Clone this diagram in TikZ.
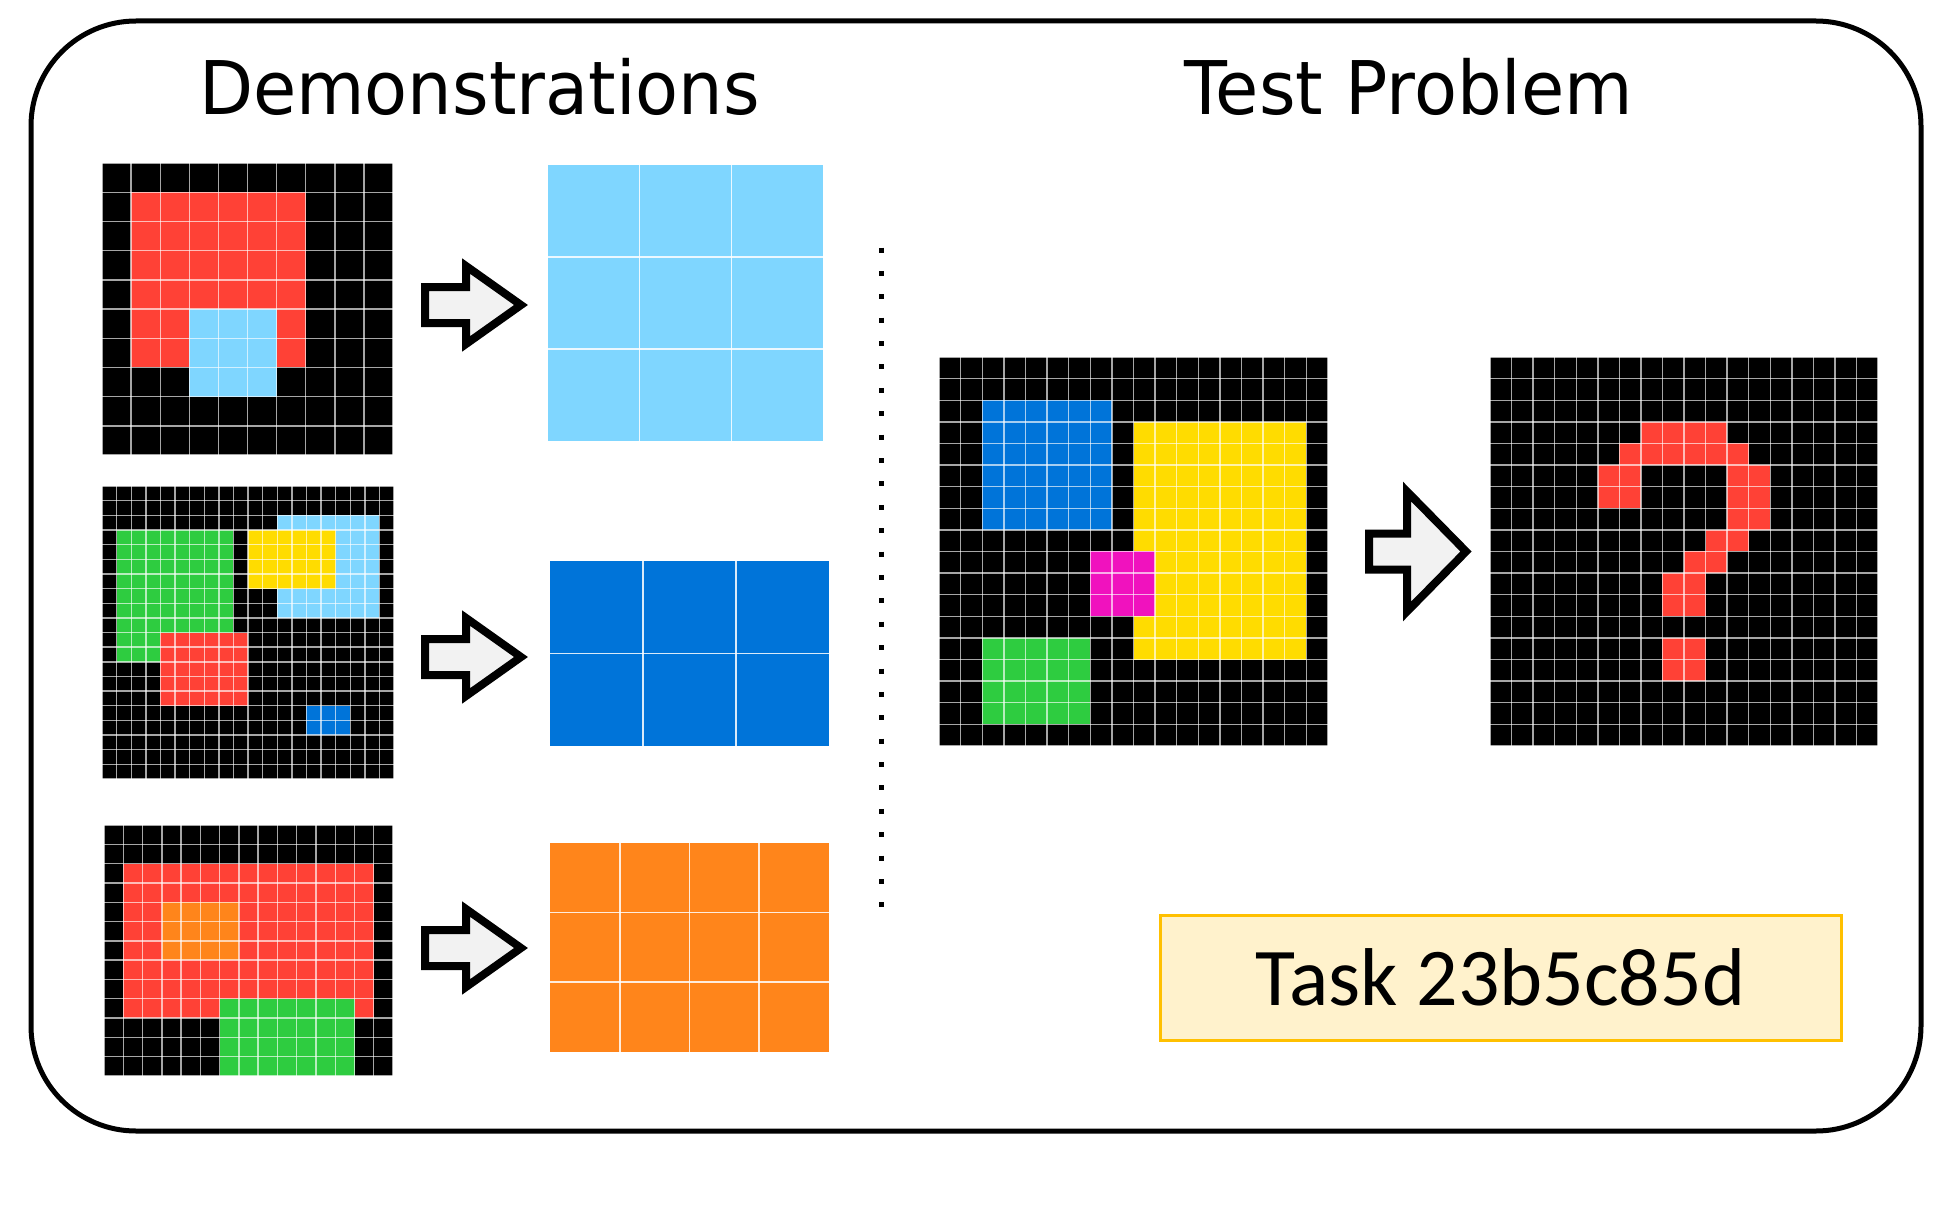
\documentclass[tikz,border=0pt]{standalone}
\usepackage{fontspec}
\newfontfamily\titlefont{DejaVu Sans}[FakeStretch=0.95]
\newfontfamily\taskfont{Carlito}
\definecolor{arcblack}{HTML}{000000}
\definecolor{arcblue}{HTML}{0074D9}
\definecolor{arcred}{HTML}{FF4136}
\definecolor{arcgreen}{HTML}{2ECC40}
\definecolor{arcyellow}{HTML}{FFDC00}
\definecolor{arcmagenta}{HTML}{F012BE}
\definecolor{arcorange}{HTML}{FF851B}
\definecolor{arcsky}{HTML}{7FD6FF}
\definecolor{arrowfill}{HTML}{F2F2F2}
\definecolor{taskfill}{HTML}{FFF2CC}
\definecolor{taskedge}{HTML}{FFC000}
\newcommand\arcgridlines[2]{%
  \foreach \i in {0,...,#1}{\draw[gridline] (\i,0) -- (\i,#2);}%
  \foreach \j in {0,...,#2}{\draw[gridline] (0,\j) -- (#1,\j);}}
\tikzset{
  gridline/.style={draw=white, draw opacity=0.65, line width=1.4pt},
  outline/.style={draw=white, draw opacity=0.85, line width=1.6pt},
  blockarr/.style={draw=black, fill=arrowfill, line width=8pt, line join=miter, miter limit=10},
  framebox/.style={draw=black, line width=5pt, rounded corners=105pt},
  dotline/.style={draw=black, line width=5pt, dash pattern=on 5pt off 18.39pt},
  titletext/.style={font=\titlefont\fontsize{74}{80}\selectfont, inner sep=0pt, anchor=base},
  taskbox/.style={draw=taskedge, fill=taskfill, line width=3pt, minimum width=681pt,
    minimum height=125pt, inner sep=0pt, font=\taskfont\fontsize{82}{90}\selectfont}
}
\begin{document}
\begin{tikzpicture}[x=1pt,y=-1pt]
\useasboundingbox (0,0) rectangle (1960,1228);
\fill[white] (0,0) rectangle (1960,1228);
% outer frame
\draw[framebox] (31,21) rectangle (1921,1131);
% titles
\node[titletext] (demo) at (479.5,115) {Demonstrations};
\node[titletext] (test) at (1409,115) {Test Problem};

% ---- demo 1 input: 10x10
\begin{scope}[shift={(102,163)}, x=29.1pt, y=-29.2pt]
  \fill[arcblack] (0,0) rectangle (10,10);
  \fill[arcred] (1,1) rectangle (7,7);
  \fill[arcsky] (3,5) rectangle (6,8);
  \arcgridlines{10}{10}
\end{scope}
% ---- demo 1 output: 3x3
\begin{scope}[shift={(548,165)}, x=91.67pt, y=-92pt]
  \fill[arcsky] (0,0) rectangle (3,3);
  \foreach \i in {1,2}{\draw[outline] (\i,0) -- (\i,3); \draw[outline] (0,\i) -- (3,\i);}
\end{scope}

% ---- demo 2 input: 20x20
\begin{scope}[shift={(102,486)}, x=14.6pt, y=-14.65pt]
  \fill[arcblack] (0,0) rectangle (20,20);
  \fill[arcgreen] (1,3) rectangle (9,12);
  \fill[arcred] (4,10) rectangle (10,15);
  \fill[arcsky] (12,2) rectangle (19,9);
  \fill[arcyellow] (10,3) rectangle (16,7);
  \fill[arcblue] (14,15) rectangle (17,17);
  \arcgridlines{20}{20}
\end{scope}
% ---- demo 2 output: 3x2
\begin{scope}[shift={(550,561)}, x=93pt, y=-92.5pt]
  \fill[arcblue] (0,0) rectangle (3,2);
  \foreach \i in {1,2}{\draw[outline] (\i,0) -- (\i,2);}
  \draw[outline] (0,1) -- (3,1);
\end{scope}

% ---- demo 3 input: 15x13
\begin{scope}[shift={(104,825)}, x=19.27pt, y=-19.3pt]
  \fill[arcblack] (0,0) rectangle (15,13);
  \fill[arcred] (1,2) rectangle (14,10);
  \fill[arcorange] (3,4) rectangle (7,7);
  \fill[arcgreen] (6,9) rectangle (13,13);
  \arcgridlines{15}{13}
\end{scope}
% ---- demo 3 output: 4x3
\begin{scope}[shift={(550,843)}, x=69.75pt, y=-69.5pt]
  \fill[arcorange] (0,0) rectangle (4,3);
  \foreach \i in {1,2,3}{\draw[outline] (\i,0) -- (\i,3);}
  \foreach \j in {1,2}{\draw[outline] (0,\j) -- (4,\j);}
\end{scope}

% ---- demo arrows
\foreach \yy in {305,657,948}{
  \begin{scope}[shift={(425,\yy)}]
    \draw[blockarr] (0,-18) -- (41,-18) -- (41,-39) -- (96,0) -- (41,39) -- (41,18) -- (0,18) -- cycle;
  \end{scope}
}

% ---- dotted separator
\coordinate (sepTop) at (881,247.5);
\coordinate (sepBot) at (881,907.5);
\draw[dotline] (sepTop) -- (sepBot);

% ---- test input: 18x18
\begin{scope}[shift={(939,357)}, x=21.61pt, y=-21.61pt]
  \fill[arcblack] (0,0) rectangle (18,18);
  \fill[arcblue] (2,2) rectangle (8,8);
  \fill[arcyellow] (9,3) rectangle (17,14);
  \fill[arcmagenta] (7,9) rectangle (10,12);
  \fill[arcgreen] (2,13) rectangle (7,17);
  \arcgridlines{18}{18}
\end{scope}

% ---- test arrow
\begin{scope}[shift={(1369,551.5)}]
  \draw[blockarr] (0,-18) -- (38,-18) -- (38,-60) -- (97,0) -- (38,60) -- (38,18) -- (0,18) -- cycle;
\end{scope}

% ---- test output: 18x18 with question mark
\begin{scope}[shift={(1490,357)}, x=21.56pt, y=-21.61pt]
  \fill[arcblack] (0,0) rectangle (18,18);
  \fill[arcred] (7,3) rectangle (11,4);
  \fill[arcred] (6,4) rectangle (12,5);
  \fill[arcred] (5,5) rectangle (7,7);
  \fill[arcred] (11,5) rectangle (13,8);
  \fill[arcred] (10,8) rectangle (12,9);
  \fill[arcred] (9,9) rectangle (11,10);
  \fill[arcred] (8,10) rectangle (10,12);
  \fill[arcred] (8,13) rectangle (10,15);
  \arcgridlines{18}{18}
\end{scope}

% ---- task label
\node[taskbox] (task) at (1500.5,977.5) {Task 23b5c85d};
\end{tikzpicture}
\end{document}
